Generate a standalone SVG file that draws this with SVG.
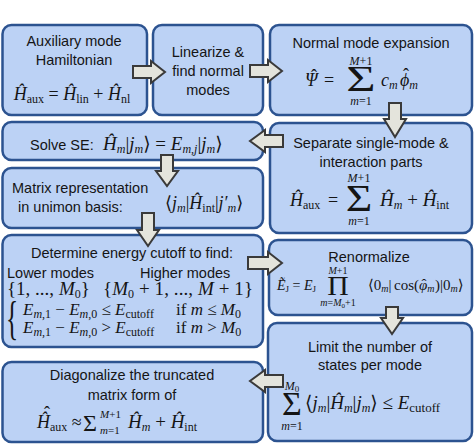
<svg xmlns="http://www.w3.org/2000/svg" width="474" height="444" viewBox="0 0 474 444">
<defs><style>
.box{fill:#bcd2f5;stroke:#2c5390;stroke-width:2.5}
.ar{fill:#e4e4dc;stroke:#3a3a3a;stroke-width:2;stroke-linejoin:miter}
.t{font-family:"Liberation Sans",Arial,sans-serif;font-size:14.5px;fill:#151515}
.m{font-family:"Liberation Serif","DejaVu Serif",serif;font-size:18px;font-style:italic;fill:#151515}
.h{font-family:"Liberation Serif","DejaVu Serif",serif;font-size:18px;font-style:normal;fill:#151515;text-anchor:middle}
.r{font-style:normal}
.s{font-size:12px}
.c{text-anchor:middle}
</style></defs>
<rect width="474" height="444" fill="#ffffff"/>
<g id="n1">
<rect class="box" x="2.5" y="25" width="144.5" height="90" rx="9"/>
<text class="t c" x="74" y="46">Auxiliary mode</text>
<text class="t c" x="74" y="65">Hamiltonian</text>
<text class="m c" x="72" y="100">Ĥ<tspan class="r s" dy="3">aux</tspan><tspan class="r" dy="-3"> = </tspan>Ĥ<tspan class="r s" dy="3">lin</tspan><tspan class="r" dy="-3"> + </tspan>Ĥ<tspan class="r s" dy="3">nl</tspan></text>
</g>
<g id="n2">
<rect class="box" x="153" y="25" width="110" height="90" rx="9"/>
<text class="t c" x="208" y="57">Linearize &amp;</text>
<text class="t c" x="208" y="76">find normal</text>
<text class="t c" x="208" y="95">modes</text>
</g>
<g id="n3">
<rect class="box" x="270" y="25" width="202" height="90" rx="9"/>
<text class="t c" x="371" y="48">Normal mode expansion</text>
<text class="m" x="305" y="86">Ψ<tspan class="r" x="324">=</tspan></text>
<text class="h" x="314" y="82">ˆ</text>
<text class="m r c" style="font-size:36px" transform="translate(361,91) scale(1.4,1)">Σ</text>
<text class="m c" style="font-size:12px" x="361" y="65">M<tspan class="r">+1</tspan></text>
<text class="m c" style="font-size:12px" x="361" y="105">m<tspan class="r">=1</tspan></text>
<text class="m" x="381" y="86">c<tspan class="s" dy="3">m</tspan><tspan x="400" dy="-3">ϕ</tspan><tspan class="s" dy="3">m</tspan></text>
<text class="h" x="406" y="81">ˆ</text>
</g>
<g id="n4">
<rect class="box" x="2.5" y="122" width="260.5" height="38" rx="9"/>
<text class="t" x="30" y="150">Solve SE:</text>
<text class="m" style="font-size:19px" x="103" y="150">Ĥ<tspan class="s" dy="3">m</tspan><tspan class="r" dy="-3">|</tspan>j<tspan class="s" dy="3">m</tspan><tspan class="r" dy="-3">⟩ = </tspan>E<tspan class="s" dy="3">m,j</tspan><tspan class="r" dy="-3">|</tspan>j<tspan class="s" dy="3">m</tspan><tspan class="r" dy="-3">⟩</tspan></text>
</g>
<g id="n5">
<rect class="box" x="2.5" y="168" width="260.5" height="60" rx="9"/>
<text class="t" x="12" y="193">Matrix representation</text>
<text class="t" x="18" y="212">in unimon basis:</text>
<text class="m" x="165" y="209"><tspan class="r">⟨</tspan>j<tspan class="s" dy="3">m</tspan><tspan class="r" dy="-3">|</tspan>Ĥ<tspan class="r s" dy="3">int</tspan><tspan class="r" dy="-3">|</tspan>j′<tspan class="s" dy="3">m</tspan><tspan class="r" dy="-3">⟩</tspan></text>
</g>
<g id="n6">
<rect class="box" x="270" y="123" width="202" height="110" rx="9"/>
<text class="t c" x="371" y="148">Separate single-mode &amp;</text>
<text class="t c" x="371" y="167">interaction parts</text>
<text class="m" x="290" y="206">Ĥ<tspan class="r s" dy="3">aux</tspan><tspan class="r" x="328" dy="-3">=</tspan></text>
<text class="m r c" style="font-size:38px" transform="translate(359,211) scale(1.2,1)">Σ</text>
<text class="m c" style="font-size:12px" x="359" y="182">M<tspan class="r">+1</tspan></text>
<text class="m c" style="font-size:12px" x="359" y="225">m<tspan class="r">=1</tspan></text>
<text class="m" style="font-size:19px" x="380" y="206">Ĥ<tspan class="s" dy="3">m</tspan><tspan class="r" dy="-3"> + </tspan>Ĥ<tspan class="r s" dy="3">int</tspan></text>
</g>
<g id="n7">
<rect class="box" x="2.5" y="235" width="260.5" height="112" rx="9"/>
<text class="t c" x="132" y="258">Determine energy cutoff to find:</text>
<text class="t" x="7" y="278">Lower modes</text>
<text class="t" x="140" y="278">Higher modes</text>
<text class="m" style="font-size:19px" x="7" y="295"><tspan class="r">{1, ..., </tspan>M<tspan class="r s" dy="3">0</tspan><tspan class="r" dy="-3">}</tspan></text>
<text class="m" style="font-size:19px" x="103" y="295" textLength="150" lengthAdjust="spacing"><tspan class="r">{</tspan>M<tspan class="r s" dy="3">0</tspan><tspan class="r" dy="-3"> + 1, ..., </tspan>M<tspan class="r"> + 1}</tspan></text>
<text class="m r" style="font-size:46px" transform="translate(6,334) scale(0.55,1)">{</text>
<text class="m" style="font-size:17px" x="23" y="315">E<tspan class="s" dy="3">m<tspan class="r">,1</tspan></tspan><tspan class="r" dy="-3"> − </tspan>E<tspan class="s" dy="3">m<tspan class="r">,0</tspan></tspan><tspan class="r" dy="-3"> ≤ </tspan>E<tspan class="r s" dy="3">cutoff</tspan><tspan class="r" x="176" dy="-3">if </tspan>m<tspan class="r"> ≤ </tspan>M<tspan class="r s" dy="3">0</tspan></text>
<text class="m" style="font-size:17px" x="23" y="333">E<tspan class="s" dy="3">m<tspan class="r">,1</tspan></tspan><tspan class="r" dy="-3"> − </tspan>E<tspan class="s" dy="3">m<tspan class="r">,0</tspan></tspan><tspan class="r" dy="-3"> &gt; </tspan>E<tspan class="r s" dy="3">cutoff</tspan><tspan class="r" x="176" dy="-3">if </tspan>m<tspan class="r"> &gt; </tspan>M<tspan class="r s" dy="3">0</tspan></text>
</g>
<g id="n8">
<rect class="box" x="269" y="240" width="203" height="75" rx="9"/>
<text class="t c" x="369" y="262">Renormalize</text>
<text class="m" style="font-size:14px" x="277" y="290">Ẽ<tspan class="r" style="font-size:9px" dy="2">J</tspan><tspan class="r" dy="-2"> = </tspan>E<tspan class="r" style="font-size:9px" dy="2">J</tspan></text>
<text class="m r c" style="font-size:27px" transform="translate(338,295) scale(1.1,1)">Π</text>
<text class="m c" style="font-size:10px" x="338" y="274">M<tspan class="r">+1</tspan></text>
<text class="m c" style="font-size:10px" x="338" y="306">m<tspan class="r">=</tspan>M<tspan class="r" style="font-size:7px" dy="2">0</tspan><tspan class="r" dy="-2">+1</tspan></text>
<text class="m" style="font-size:15px" x="368" y="290"><tspan class="r">⟨0</tspan><tspan style="font-size:10px" dy="2">m</tspan><tspan class="r" dy="-2">|</tspan><tspan class="r" x="394">cos(</tspan><tspan x="419">φ</tspan><tspan style="font-size:10px" dy="2">m</tspan><tspan class="r" x="435" dy="-2">)|0</tspan><tspan style="font-size:10px" dy="2">m</tspan><tspan class="r" dy="-2">⟩</tspan></text>
<text class="h" style="font-size:15px" x="424" y="289">ˆ</text>
</g>
<g id="n9">
<rect class="box" x="268" y="323" width="204" height="118" rx="9"/>
<text class="t c" x="370" y="352">Limit the number of</text>
<text class="t c" x="370" y="370">states per mode</text>
<text class="m r c" style="font-size:34px" transform="translate(292,415) scale(1.0,1)">Σ</text>
<text class="m c" style="font-size:12px" x="292" y="390">M<tspan class="r" style="font-size:9px" dy="2">0</tspan></text>
<text class="m c" style="font-size:12px" x="292" y="430">m<tspan class="r">=1</tspan></text>
<text class="m" style="font-size:19px" x="305" y="409"><tspan class="r">⟨</tspan>j<tspan class="s" dy="3">m</tspan><tspan class="r" dy="-3">|</tspan>Ĥ<tspan class="s" dy="3">m</tspan><tspan class="r" dy="-3">|</tspan>j<tspan class="s" dy="3">m</tspan><tspan class="r" dy="-3">⟩ ≤ </tspan>E<tspan class="r" style="font-size:13px" dy="3">cutoff</tspan></text>
</g>
<g id="n10">
<rect class="box" x="2.5" y="362" width="260.5" height="80" rx="9"/>
<text class="t c" x="132" y="380">Diagonalize the truncated</text>
<text class="t c" x="132" y="400">matrix form of</text>
<text class="m" x="37" y="428">Ĥ<tspan class="r s" dy="3">aux</tspan><tspan class="r" dy="-3"> ≈</tspan></text>
<text class="h" x="47" y="419">ˆ</text>
<text class="m r" style="font-size:24px" x="83" y="431">Σ</text>
<text class="m" style="font-size:11px" x="100" y="418">M<tspan class="r">+1</tspan></text>
<text class="m" style="font-size:11px" x="100" y="434">m<tspan class="r">=1</tspan></text>
<text class="m" style="font-size:19px" x="128" y="428">Ĥ<tspan class="s" dy="3">m</tspan><tspan class="r" dy="-3"> + </tspan>Ĥ<tspan class="r s" dy="3">int</tspan></text>
</g>
<g id="connectors">
<polygon class="ar" points="133,66 151,66 151,61 165,72 151,83 151,78 133,78"/>
<polygon class="ar" points="250,65 268,65 268,60 282,71 268,82 268,77 250,77"/>
<polygon class="ar" points="389,103 401,103 401,119 406,119 395,137 384,119 389,119"/>
<polygon class="ar" points="283,135 265,135 265,130 250,141 265,152 265,147 283,147"/>
<polygon class="ar" points="161,155 173,155 173,171 178,171 167,186 156,171 161,171"/>
<polygon class="ar" points="142,213 154,213 154,230 159,230 148,246 137,230 142,230"/>
<polygon class="ar" points="248,257 268,257 268,252 282,263 268,274 268,269 248,269"/>
<polygon class="ar" points="386,307 398,307 398,318 403,318 392,334 381,318 386,318"/>
<polygon class="ar" points="283,375 265,375 265,370 250,381 265,392 265,387 283,387"/>
</g>
</svg>
